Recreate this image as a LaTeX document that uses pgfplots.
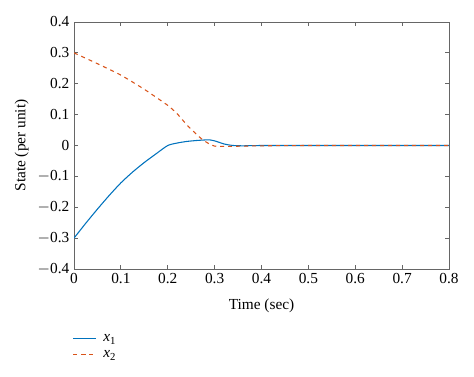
\documentclass[border=0pt]{standalone}
\usepackage{fontspec}
\setmainfont{Liberation Serif}
\usepackage{pgfplots}
\pgfplotsset{compat=1.18}
\definecolor{mblue}{rgb}{0.0,0.447,0.741}
\definecolor{morange}{rgb}{0.85,0.325,0.098}
\begin{document}
\begin{tikzpicture}
\path[use as bounding box] (-55.5pt,-81pt) rectangle (300pt,201.75pt);
\begin{axis}[
  at={(0,0)}, anchor=south west,
  scale only axis, width=281.25pt, height=185.25pt,
  xmin=0, xmax=0.8, ymin=-0.4, ymax=0.4,
  xtick={0,0.1,...,0.8}, ytick={-0.4,-0.3,...,0.4},
  xticklabels={0,0.1,0.2,0.3,0.4,0.5,0.6,0.7,0.8},
  yticklabels={$-$0.4,$-$0.3,$-$0.2,$-$0.1,0,0.1,0.2,0.3,0.4},
  tick align=inside, major tick length=3pt,
  axis line style={draw=black!60, line width=0.6pt},
  tick style={black!60, line width=0.6pt},
  ticklabel style={font=\fontsize{11.5}{13}\selectfont},
  label style={font=\fontsize{11.5}{13}\selectfont},
  xlabel={Time (sec)}, ylabel={State (per unit)},
  xlabel style={yshift=-4pt},
  legend style={draw=none, fill=none, at={(axis description cs:0,0)}, anchor=north west, yshift=-44pt, xshift=-4pt, font=\fontsize{11.5}{13}\selectfont, row sep=0pt,
    nodes={inner sep=1pt, text depth=0.25em, text height=0.75em}},
  legend cell align=left,
]
\addplot[mblue, line width=0.8pt, smooth, tension=0.4] coordinates {
(0,-0.300) (0.025,-0.252) (0.05,-0.206) (0.075,-0.162) (0.1,-0.121) (0.125,-0.086) (0.15,-0.055) (0.175,-0.027) (0.2,0.000)
(0.22,0.008) (0.24,0.013) (0.26,0.016) (0.28,0.018) (0.29,0.018) (0.30,0.015) (0.31,0.010) (0.32,0.005) (0.33,0.002) (0.34,0.000)
(0.36,-0.001) (0.4,0.000) (0.5,0.000) (0.6,0.000) (0.7,0.000) (0.8,0.000)
};
\addlegendentry{\hspace{4pt}\textit{x}\textsubscript{1}}
\addplot[morange, line width=0.8pt, dashed, smooth, tension=0.3] coordinates {
(0,0.300) (0.05,0.265) (0.1,0.228) (0.15,0.182) (0.2,0.130) (0.22,0.103) (0.24,0.068) (0.26,0.038) (0.275,0.018) (0.29,0.004) (0.30,-0.002)
(0.31,-0.003) (0.33,-0.003) (0.36,-0.002) (0.4,-0.001) (0.5,0.000) (0.6,0.000) (0.7,0.000) (0.8,0.000)
};
\addlegendentry{\hspace{4pt}\textit{x}\textsubscript{2}}
\end{axis}
\end{tikzpicture}
\end{document}
